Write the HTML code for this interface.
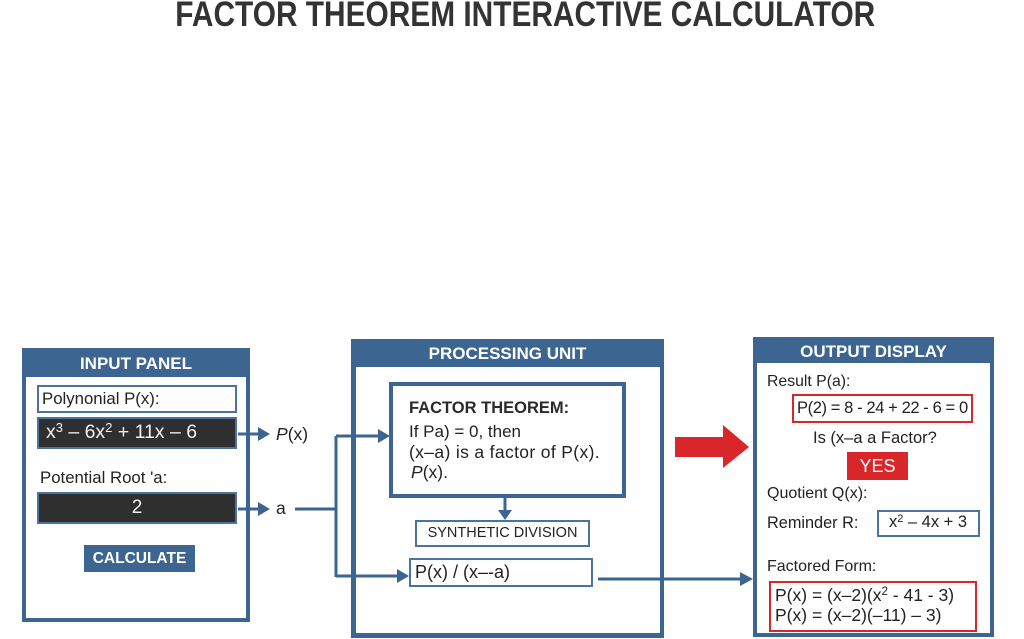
<!DOCTYPE html>
<html>
<head>
<meta charset="utf-8">
<style>
  html,body{margin:0;padding:0;background:#fff;}
  body{width:1024px;height:639px;position:relative;overflow:hidden;font-family:"Liberation Sans",sans-serif;color:#222;}
  .abs{position:absolute;}
  .blue{background:#3d6591;}
  .white{background:#fff;}
  .hdr{position:absolute;color:#fff;font-weight:bold;font-size:17px;text-align:center;white-space:nowrap;}
  .t{position:absolute;white-space:nowrap;line-height:1;}
  sup{font-size:0.66em;vertical-align:0;position:relative;top:-0.5em;}
</style>
</head>
<body>

<!-- Title -->
<div class="t" style="left:25px;width:1000px;top:-3px;text-align:center;font-size:35px;font-weight:bold;color:#333;">
  <span style="display:inline-block;transform:scaleX(0.853);transform-origin:center;">FACTOR THEOREM INTERACTIVE CALCULATOR</span>
</div>

<!-- INPUT PANEL -->
<div class="abs blue" style="left:22px;top:348px;width:228px;height:274px;"></div>
<div class="abs white" style="left:26px;top:377px;width:220px;height:241px;"></div>
<div class="hdr" style="left:22px;width:228px;top:354px;">INPUT PANEL</div>

<div class="abs" style="left:37px;top:385px;width:196px;height:24px;border:2px solid #4a73a0;background:#fff;"></div>
<div class="t" style="left:42px;top:391px;font-size:16.8px;">Polynonial P(x):</div>

<div class="abs" style="left:37px;top:417px;width:196px;height:28px;border:2px solid #4a73a0;background:#2f2f2f;"></div>
<div class="t" style="left:46px;top:423px;font-size:19.5px;color:#f2f2f2;">x<sup>3</sup> &#8211; 6x<sup>2</sup> + 11x &#8211; 6</div>

<div class="t" style="left:40px;top:470px;font-size:16.8px;">Potential Root 'a:</div>

<div class="abs" style="left:37px;top:492px;width:196px;height:28px;border:2px solid #4a73a0;background:#2f2f2f;"></div>
<div class="t" style="left:37px;width:200px;text-align:center;top:498px;font-size:19px;color:#f2f2f2;">2</div>

<div class="abs blue" style="left:84px;top:545px;width:111px;height:27px;"></div>
<div class="t" style="left:84px;width:111px;text-align:center;top:551px;font-size:15.5px;font-weight:bold;color:#fff;">CALCULATE</div>

<div class="t" style="left:276px;top:426px;font-size:17.5px;"><i>P</i>(x)</div>
<div class="t" style="left:276px;top:500px;font-size:17.5px;">a</div>

<!-- PROCESSING UNIT -->
<div class="abs blue" style="left:351px;top:339px;width:313px;height:299px;"></div>
<div class="abs white" style="left:356px;top:367px;width:304px;height:266px;"></div>
<div class="hdr" style="left:351px;width:313px;top:344px;">PROCESSING UNIT</div>

<div class="abs" style="left:389px;top:382px;width:229px;height:108px;border:4px solid #3d6591;background:#fff;"></div>
<div class="t" style="left:409px;top:400px;font-size:16.5px;font-weight:bold;color:#2a2a2a;">FACTOR THEOREM:</div>
<div class="t" style="left:409px;top:423px;font-size:17px;">If Pa) = 0, then</div>
<div class="t" style="left:409px;top:444px;font-size:17.5px;letter-spacing:0.35px;">(x&#8211;a) is a factor of P(x).</div>
<div class="t" style="left:411px;top:464px;font-size:17.5px;"><i>P</i>(x).</div>

<div class="abs" style="left:415px;top:520px;width:171px;height:23px;border:2px solid #4a73a0;background:#fff;"></div>
<div class="t" style="left:415px;width:175px;text-align:center;top:526px;font-size:14.5px;">SYNTHETIC DIVISION</div>

<div class="abs" style="left:409px;top:558px;width:180px;height:25px;border:2px solid #4a73a0;background:#fff;"></div>
<div class="t" style="left:415px;top:563px;font-size:18px;">P(x) / (x&#8211;-a)</div>

<!-- OUTPUT DISPLAY -->
<div class="abs blue" style="left:753px;top:337px;width:241px;height:300px;"></div>
<div class="abs white" style="left:757px;top:363px;width:233px;height:270px;"></div>
<div class="hdr" style="left:753px;width:241px;top:342px;">OUTPUT DISPLAY</div>

<div class="t" style="left:767px;top:374px;font-size:15.8px;">Result P(a):</div>
<div class="abs" style="left:792px;top:394px;width:177px;height:25px;border:2px solid #d9262a;background:#fff;"></div>
<div class="t" style="left:797px;top:400px;font-size:16.5px;letter-spacing:-0.4px;">P(2) = 8 - 24 + 22 - 6 = 0</div>

<div class="t" style="left:813px;top:430px;font-size:16.5px;">Is (x&#8211;a a Factor?</div>
<div class="abs" style="left:847px;top:452px;width:61px;height:28px;background:#d9262a;"></div>
<div class="t" style="left:847px;width:61px;text-align:center;top:457px;font-size:18px;color:#fff;">YES</div>

<div class="t" style="left:767px;top:486px;font-size:16px;">Quotient Q(x):</div>
<div class="t" style="left:767px;top:515px;font-size:16.3px;">Reminder R:</div>
<div class="abs" style="left:877px;top:510px;width:99px;height:23px;border:2px solid #4a73a0;background:#fff;"></div>
<div class="t" style="left:889px;top:514px;font-size:16.5px;">x<sup>2</sup> &#8211; 4x + 3</div>

<div class="t" style="left:767px;top:559px;font-size:16px;">Factored Form:</div>
<div class="abs" style="left:769px;top:581px;width:204px;height:47px;border:2px solid #d9262a;background:#fff;"></div>
<div class="t" style="left:775px;top:587px;font-size:17.5px;">P(x) = (x&#8211;2)(x<sup>2</sup> - 41 - 3)</div>
<div class="t" style="left:775px;top:607px;font-size:17.5px;">P(x) = (x&#8211;2)(&#8211;11) &#8211; 3)</div>

<!-- Connectors -->
<svg class="abs" style="left:0;top:0;" width="1024" height="639" viewBox="0 0 1024 639">
  <g stroke="#3d6591" stroke-width="3" fill="none">
    <line x1="238" y1="434" x2="260" y2="434"/>
    <line x1="238" y1="509" x2="260" y2="509"/>
    <polyline points="295,509 336,509"/>
    <line x1="336" y1="436" x2="336" y2="577"/>
    <line x1="336" y1="436" x2="379" y2="436"/>
    <line x1="336" y1="576" x2="398" y2="576"/>
    <line x1="505" y1="498" x2="505" y2="512"/>
    <line x1="598" y1="579" x2="742" y2="579"/>
  </g>
  <g fill="#3d6591">
    <polygon points="258,427 270,434 258,441"/>
    <polygon points="258,502 270,509 258,516"/>
    <polygon points="378,429 390,436 378,443"/>
    <polygon points="397,569 409,576 397,583"/>
    <polygon points="498,510 505,520 512,510"/>
    <polygon points="740,572 753,579 740,586"/>
  </g>
  <polygon fill="#d9262a" points="675,437 723,437 723,425 749,447 723,468 723,457 675,457"/>
</svg>

</body>
</html>
